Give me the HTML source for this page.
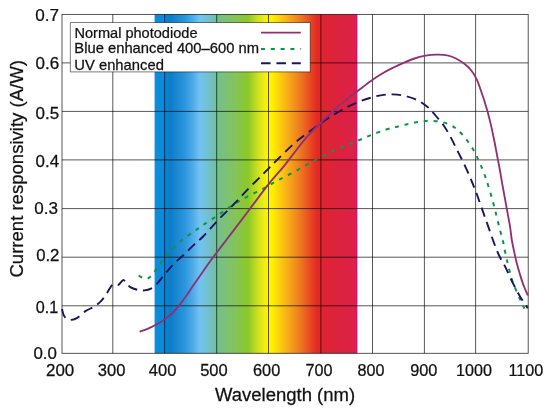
<!DOCTYPE html>
<html><head><meta charset="utf-8"><title>Photodiode responsivity</title>
<style>
html,body{margin:0;padding:0;background:#fff;}
body{width:550px;height:413px;overflow:hidden;}
svg{display:block;font-family:"Liberation Sans",sans-serif;}
</style></head><body>
<svg width="550" height="413" viewBox="0 0 550 413">
<defs><linearGradient id="sp" gradientUnits="userSpaceOnUse" x1="154.6" y1="0" x2="357.4" y2="0"><stop offset="0.0000" stop-color="#0f8cda"/><stop offset="0.0414" stop-color="#0e8ad6"/><stop offset="0.0759" stop-color="#0c7cc8"/><stop offset="0.1499" stop-color="#2c96dc"/><stop offset="0.1844" stop-color="#4aa8e6"/><stop offset="0.2239" stop-color="#72c4f2"/><stop offset="0.2732" stop-color="#72c0c8"/><stop offset="0.3126" stop-color="#74bf8c"/><stop offset="0.3964" stop-color="#84c45a"/><stop offset="0.4606" stop-color="#8cc828"/><stop offset="0.5099" stop-color="#d0e020"/><stop offset="0.5493" stop-color="#f8f010"/><stop offset="0.5789" stop-color="#fff200"/><stop offset="0.6233" stop-color="#fcc812"/><stop offset="0.6726" stop-color="#f5a01a"/><stop offset="0.7194" stop-color="#ee7820"/><stop offset="0.7663" stop-color="#e84a22"/><stop offset="0.8008" stop-color="#e22a26"/><stop offset="0.8353" stop-color="#de2432"/><stop offset="0.9142" stop-color="#dc2240"/><stop offset="0.9852" stop-color="#dc2246"/><stop offset="0.9941" stop-color="#e0107a"/><stop offset="1.0000" stop-color="#e0107a"/></linearGradient></defs>
<rect width="550" height="413" fill="#fff"/>
<rect x="154.6" y="14.4" width="202.8" height="338.9" fill="url(#sp)"/>
<g stroke="#000" stroke-opacity="0.78" stroke-width="0.85" fill="none"><line x1="112.8" y1="14.4" x2="112.8" y2="353.3"/><line x1="164.7" y1="14.4" x2="164.7" y2="353.3"/><line x1="216.7" y1="14.4" x2="216.7" y2="353.3"/><line x1="268.5" y1="14.4" x2="268.5" y2="353.3"/><line x1="320.9" y1="14.4" x2="320.9" y2="353.3"/><line x1="372.5" y1="14.4" x2="372.5" y2="353.3"/><line x1="424.4" y1="14.4" x2="424.4" y2="353.3"/><line x1="475.6" y1="14.4" x2="475.6" y2="353.3"/><line x1="62.0" y1="62.9" x2="528.2" y2="62.9"/><line x1="62.0" y1="111.4" x2="528.2" y2="111.4"/><line x1="62.0" y1="159.9" x2="528.2" y2="159.9"/><line x1="62.0" y1="208.6" x2="528.2" y2="208.6"/><line x1="62.0" y1="257.2" x2="528.2" y2="257.2"/><line x1="62.0" y1="305.8" x2="528.2" y2="305.8"/><rect x="62" y="14.4" width="466.2" height="338.9"/></g>
<g fill="none" stroke-linecap="butt" stroke-linejoin="round">
<path d="M138.6 275.7C139.8 276.2 143.6 278.8 145.5 279.0C147.4 279.2 148.5 278.2 150.0 277.0C151.5 275.8 152.6 274.3 154.4 272.0C156.2 269.7 158.7 265.9 160.9 263.0C163.1 260.1 165.3 257.4 167.5 254.8C169.7 252.2 171.5 249.8 174.0 247.2C176.5 244.6 180.1 241.6 182.7 239.5C185.2 237.4 187.1 236.2 189.3 234.7C191.5 233.2 193.5 231.9 195.8 230.3C198.1 228.7 199.3 227.6 203.1 225.0C206.9 222.4 213.3 218.4 218.4 215.0C223.5 211.6 228.5 207.7 233.6 204.5C238.7 201.3 243.8 198.5 248.9 195.8C254.0 193.1 259.5 190.8 264.2 188.2C268.9 185.6 272.6 183.1 277.3 180.5C282.0 177.9 287.5 175.6 292.5 172.9C297.5 170.2 302.5 167.1 307.1 164.5C311.7 161.9 315.8 159.8 320.2 157.5C324.6 155.2 328.9 152.9 333.3 150.9C337.7 148.9 342.0 147.3 346.4 145.5C350.8 143.7 355.1 141.8 359.5 140.0C363.9 138.2 368.1 136.2 372.5 134.5C376.9 132.8 382.1 130.8 386.2 129.5C390.3 128.2 393.5 127.7 397.1 126.8C400.7 125.9 404.4 124.8 408.0 124.0C411.6 123.2 415.3 122.3 418.9 121.8C422.5 121.3 426.2 120.8 429.8 120.8C433.4 120.8 437.4 121.2 440.7 121.8C444.0 122.4 446.9 123.4 449.5 124.5C452.1 125.6 454.2 127.1 456.0 128.4C457.8 129.7 458.6 130.5 460.4 132.5C462.2 134.5 464.7 137.3 466.9 140.2C469.1 143.1 471.7 146.9 473.5 150.0C475.3 153.1 476.4 155.6 477.8 158.7C479.2 161.8 480.9 165.4 482.2 168.5C483.5 171.6 484.5 174.5 485.5 177.3C486.5 180.1 487.0 181.6 488.2 185.5C489.4 189.4 491.3 195.9 492.7 200.9C494.1 205.9 495.2 210.7 496.4 215.5C497.6 220.3 498.9 225.6 500.0 230.0C501.1 234.4 502.2 237.9 503.1 241.8C504.0 245.7 504.6 249.7 505.5 253.6C506.4 257.6 507.0 260.8 508.2 265.5C509.4 270.2 510.7 276.2 512.7 281.8C514.7 287.4 518.0 294.6 520.0 299.1C522.0 303.6 523.8 307.1 524.5 308.7" stroke="#0a9648" stroke-width="2" stroke-dasharray="4 5.8"/>
<path d="M62.0 309.0C62.4 310.2 63.0 314.5 64.3 316.3C65.5 318.1 67.4 319.5 69.5 319.8C71.6 320.1 74.1 319.6 76.8 318.1C79.5 316.7 82.8 312.9 85.5 311.1C88.2 309.3 90.8 308.6 93.2 307.2C95.6 305.8 97.7 304.3 99.7 302.4C101.7 300.5 103.4 298.4 105.2 295.8C107.0 293.2 109.1 289.1 110.6 287.1C112.0 285.1 112.6 284.2 113.9 283.8C115.2 283.4 116.8 285.5 118.3 284.9C119.8 284.3 121.8 280.5 123.1 280.1C124.4 279.7 124.7 281.5 125.9 282.7C127.1 283.9 128.3 285.9 130.3 287.1C132.3 288.3 135.5 289.3 137.9 289.9C140.3 290.4 142.3 290.6 144.5 290.4C146.7 290.2 148.8 289.8 151.0 288.6C153.2 287.4 155.2 285.5 157.6 283.0C160.0 280.5 162.6 276.7 165.3 273.5C168.0 270.3 171.1 266.6 174.0 263.7C176.9 260.8 179.4 258.9 182.7 255.8C186.0 252.7 190.2 248.3 193.6 245.1C197.0 241.9 199.0 240.7 203.1 236.5C207.2 232.3 213.3 225.1 218.4 219.8C223.5 214.5 228.5 209.8 233.6 204.5C238.7 199.2 243.8 193.5 248.9 188.2C254.0 182.9 259.5 177.7 264.2 172.9C268.9 168.2 272.3 164.6 277.3 159.7C282.3 154.8 289.0 148.0 294.0 143.6C299.0 139.2 302.7 136.7 307.1 133.4C311.5 130.1 315.8 126.7 320.2 123.6C324.6 120.5 328.9 117.6 333.3 114.9C337.7 112.2 342.0 109.5 346.4 107.3C350.8 105.1 355.4 103.1 359.5 101.5C363.6 99.9 367.2 98.8 370.9 97.7C374.6 96.6 378.2 95.6 381.8 95.1C385.4 94.5 389.1 94.3 392.7 94.4C396.3 94.5 400.0 94.8 403.6 95.6C407.2 96.3 411.2 97.6 414.5 98.9C417.8 100.2 420.8 102.0 423.3 103.7C425.9 105.4 427.6 106.9 429.8 109.0C432.0 111.1 434.0 113.7 436.4 116.5C438.8 119.3 441.6 122.6 444.0 126.0C446.4 129.4 448.3 132.9 450.5 136.9C452.7 140.9 454.9 145.6 457.1 150.0C459.3 154.4 461.6 158.9 463.6 163.1C465.6 167.3 467.6 171.6 469.1 175.0C470.6 178.4 471.3 180.2 472.7 183.6C474.1 187.0 475.6 190.9 477.3 195.5C479.0 200.1 480.9 205.8 482.7 210.9C484.5 216.1 486.4 221.2 488.2 226.4C490.0 231.6 491.8 237.0 493.6 241.8C495.4 246.7 497.1 251.2 499.1 255.5C501.1 259.8 503.4 263.1 505.5 267.3C507.6 271.5 509.4 276.0 511.8 280.9C514.2 285.8 517.3 291.8 520.0 296.4C522.7 300.9 526.5 306.2 527.8 308.2" stroke="#1b1464" stroke-width="1.9" stroke-dasharray="9.6 5.8"/>
<path d="M139.7 331.8C141.0 331.3 144.9 329.9 147.5 328.8C150.1 327.7 152.6 326.6 155.0 325.3C157.4 324.0 159.8 322.6 162.0 321.2C164.2 319.8 166.0 318.4 168.0 316.8C170.0 315.2 172.0 313.6 174.0 311.5C176.0 309.4 178.0 306.8 180.0 304.3C182.0 301.8 184.0 299.1 186.0 296.3C188.0 293.5 189.7 290.7 192.0 287.3C194.3 283.9 196.7 280.5 199.7 276.2C202.7 271.9 206.3 266.6 210.0 261.5C213.7 256.4 218.2 250.6 222.0 245.6C225.8 240.6 228.4 237.3 232.9 231.4C237.4 225.5 242.9 218.1 248.9 210.2C254.9 202.3 262.8 191.5 268.6 184.2C274.4 176.9 279.6 171.6 283.8 166.4C288.0 161.2 290.1 158.1 294.0 153.1C297.9 148.1 302.7 141.7 307.1 136.7C311.5 131.7 315.8 127.6 320.2 123.3C324.6 119.0 328.9 114.7 333.3 110.7C337.7 106.8 342.4 102.8 346.4 99.6C350.4 96.4 353.2 94.4 357.3 91.3C361.4 88.2 366.8 83.8 370.9 80.9C375.0 78.0 378.2 76.0 381.8 73.8C385.4 71.6 389.1 69.7 392.7 67.9C396.3 66.1 400.0 64.5 403.6 62.9C407.2 61.3 410.9 59.7 414.5 58.5C418.1 57.3 421.9 56.4 425.5 55.7C429.1 55.1 432.8 54.7 436.4 54.6C440.0 54.5 444.0 54.6 447.3 55.3C450.6 55.9 453.1 57.0 456.0 58.5C458.9 60.0 462.1 62.0 464.7 64.0C467.2 66.0 469.3 68.0 471.3 70.5C473.3 73.0 475.1 76.0 476.7 79.3C478.3 82.5 479.4 86.4 480.7 90.0C482.0 93.6 483.2 97.3 484.4 100.9C485.5 104.5 486.5 107.8 487.6 111.8C488.7 115.8 489.8 120.2 490.9 124.9C492.0 129.6 493.1 134.8 494.2 140.2C495.3 145.6 496.6 152.9 497.5 157.6C498.4 162.3 498.7 163.7 499.6 168.5C500.5 173.3 501.5 179.8 502.7 186.4C503.9 193.0 505.5 201.5 506.7 208.2C507.9 214.9 509.1 221.1 510.0 226.4C510.9 231.7 511.1 235.9 511.8 240.0C512.5 244.1 513.2 247.3 514.0 250.9C514.8 254.5 515.4 257.9 516.4 261.8C517.4 265.7 518.8 270.6 520.0 274.5C521.2 278.4 522.3 282.0 523.6 285.5C524.9 289.0 527.1 293.8 527.8 295.5" stroke="#8f3077" stroke-width="1.85"/>
</g>
<rect x="70.3" y="22.6" width="239.9" height="49.3" fill="#fff" stroke="#000" stroke-opacity="0.6" stroke-width="0.85"/>
<g fill="#111" stroke="#111" stroke-width="0.25">
<text transform="translate(74.43,37.50) scale(0.9980,1)" font-size="14.6px">Normal photodiode</text>
<text transform="translate(74.32,53.30) scale(1.0122,1)" font-size="14.6px">Blue enhanced 400–600 nm</text>
<text transform="translate(74.29,69.70) scale(1.0124,1)" font-size="14.6px">UV enhanced</text>
</g>
<g fill="none">
<line x1="261" y1="32.6" x2="300.8" y2="32.6" stroke="#8f3077" stroke-width="1.85"/>
<line x1="261" y1="48.9" x2="300.8" y2="48.9" stroke="#0a9648" stroke-width="2" stroke-dasharray="4 5.8"/>
<line x1="261" y1="63.2" x2="300.8" y2="63.2" stroke="#1b1464" stroke-width="1.9" stroke-dasharray="9.6 5.8"/>
</g>
<g fill="#111" stroke="#111" stroke-width="0.25"><text transform="translate(46.06,376.40) scale(1.0562,1)" font-size="16px">200</text><text transform="translate(97.84,376.40) scale(1.0377,1)" font-size="16px">300</text><text transform="translate(148.77,376.40) scale(1.0365,1)" font-size="16px">400</text><text transform="translate(200.14,376.40) scale(1.0299,1)" font-size="16px">500</text><text transform="translate(252.98,376.40) scale(1.0206,1)" font-size="16px">600</text><text transform="translate(305.39,376.40) scale(1.0127,1)" font-size="16px">700</text><text transform="translate(357.47,376.40) scale(1.0095,1)" font-size="16px">800</text><text transform="translate(410.16,376.40) scale(1.0213,1)" font-size="16px">900</text><text transform="translate(456.09,376.40) scale(1.0077,1)" font-size="16px">1000</text><text transform="translate(508.39,376.40) scale(1.0110,1)" font-size="16px">1100</text><text transform="translate(35.22,21.40) scale(1.0673,1)" font-size="16px">0.7</text><text transform="translate(35.62,68.90) scale(1.0639,1)" font-size="16px">0.6</text><text transform="translate(35.62,119.00) scale(1.0639,1)" font-size="16px">0.5</text><text transform="translate(35.62,166.70) scale(1.0559,1)" font-size="16px">0.4</text><text transform="translate(34.32,213.90) scale(1.0687,1)" font-size="16px">0.3</text><text transform="translate(36.13,261.30) scale(1.0481,1)" font-size="16px">0.2</text><text transform="translate(35.65,312.60) scale(1.0105,1)" font-size="16px">0.1</text><text transform="translate(33.42,358.50) scale(1.0551,1)" font-size="16px">0.0</text></g>
<g fill="#111" stroke="#111" stroke-width="0.25"><text transform="translate(214.91,400.60) scale(1.0283,1)" font-size="18px">Wavelength (nm)</text>
<text transform="translate(22.90,277.53) rotate(-90) scale(1.0307,1)" font-size="18px">Current responsivity (A/W)</text></g>
</svg>
</body></html>
